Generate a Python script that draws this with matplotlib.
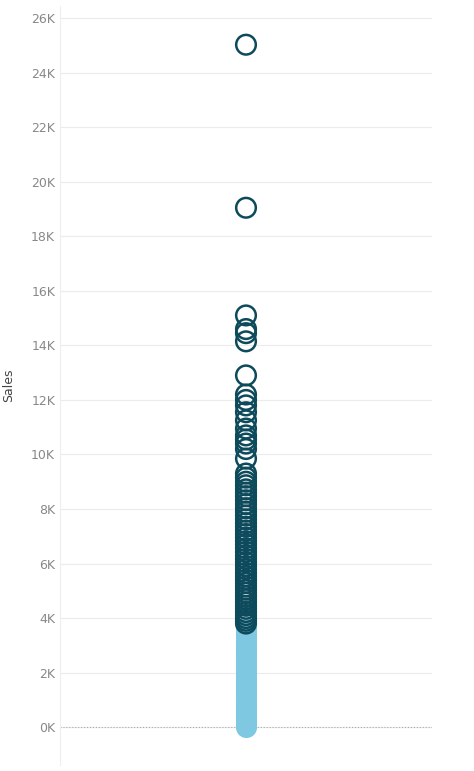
import matplotlib; matplotlib.use("Agg")
import matplotlib.pyplot as plt
from matplotlib.ticker import FuncFormatter

# sales above ~3.7K (dark outlines) and below (light fill)
high_sales = [25030, 19050, 15100, 14600, 14450, 14150, 12900, 12200, 12000, 11800,
              11550, 11250, 10950, 10700, 10550, 10400, 10200, 9850, 9300, 9150,
              9000, 8870, 8720, 8600, 8470, 8320, 8180, 8030, 7900, 7760, 7620, 7480,
              7350, 7210, 7080, 6950, 6820, 6700, 6560, 6430, 6300, 6170, 6040, 5910,
              5790, 5660, 5530, 5410, 5290, 5160, 5040, 4920, 4800, 4690, 4570, 4450,
              4340, 4220, 4110, 4000, 3900, 3800]
low_sales = [3650, 3520, 3390, 3260, 3130, 3010, 2880, 2760, 2630, 2510, 2390, 2260,
             2140, 2020, 1900, 1780, 1660, 1540, 1430, 1310, 1200, 1080, 970, 860,
             750, 640, 540, 430, 330, 230, 140, 60, 10]

fig = plt.figure(figsize=(4.74, 7.71), dpi=100)
ax = fig.add_axes([60/474, 6/771, 372/474, 759/771])
ax.scatter([0]*len(low_sales), low_sales, s=200, color="#7fc8e2", edgecolors="#7fc8e2", zorder=3)
ax.scatter([0]*len(high_sales), high_sales, s=200, facecolors="none", edgecolors="#0d4a5b", linewidths=1.8, zorder=4)
ax.set_xlim(-1, 1)
ax.set_ylim(-1390, 26450)
ax.set_yticks(range(0, 26001, 2000))
ax.yaxis.set_major_formatter(FuncFormatter(lambda v, p: f"{int(v/1000)}K"))
ax.set_xticks([])
ax.grid(axis="y", color="#ececec", lw=0.8)
ax.axhline(0, color="#aaaaaa", ls=":", lw=0.8)
for s in ax.spines.values():
    s.set_visible(False)
ax.spines["left"].set_visible(True); ax.spines["left"].set_color("#eeeeee")
ax.tick_params(axis="y", length=0, labelcolor="#888888", labelsize=9)
ax.set_ylabel("Sales", color="#444444", fontsize=9)
ax.yaxis.set_label_coords(-0.12, 0.5)
fig.savefig("out.png", dpi=100)
